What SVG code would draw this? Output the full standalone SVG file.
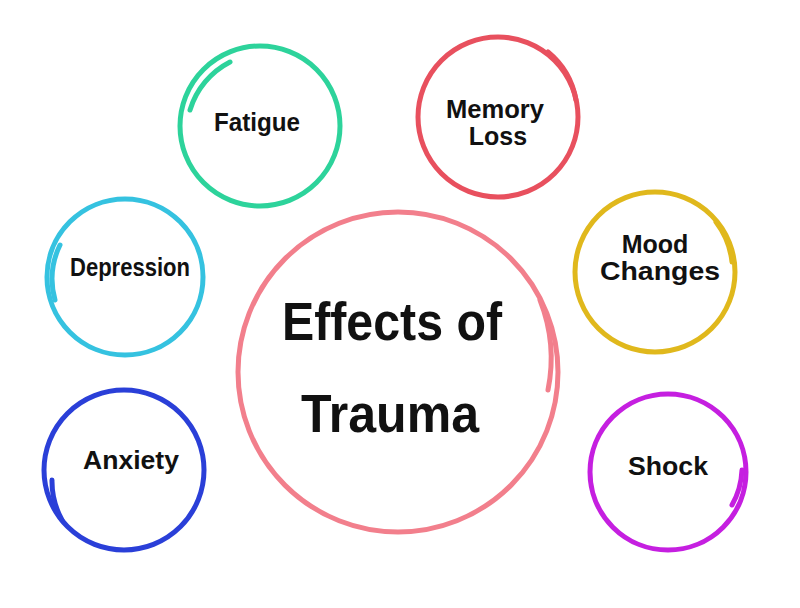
<svg xmlns="http://www.w3.org/2000/svg" width="800" height="608" viewBox="0 0 800 608">
<style>
.c{fill:none;stroke-width:5;stroke-linecap:round}
.t{font-family:"Liberation Sans",Arial,sans-serif;font-size:25px;font-weight:bold;fill:#111;text-anchor:middle;lengthAdjust:spacingAndGlyphs}
.big{font-size:54px}
</style>
<rect width="800" height="608" fill="#fff"/>
<g id="center"><circle class="c" cx="398" cy="372" r="160" stroke="#f27f8c" stroke-width="7"/><path class="c" d="M540 300 A160 160 0 0 1 548 390" stroke="#f27f8c" stroke-width="6"/>
<text class="t big" x="392" y="340" textLength="220" lengthAdjust="spacingAndGlyphs">Effects of</text><text class="t big" x="390" y="432" textLength="178" lengthAdjust="spacingAndGlyphs">Trauma</text></g>
<g id="fatigue"><circle class="c" cx="260" cy="126" r="80" stroke="#2dd39b"/><path class="c" d="M230 62 A80 80 0 0 0 190 110" stroke="#2dd39b"/><text class="t" x="257" y="131" textLength="86" lengthAdjust="spacingAndGlyphs">Fatigue</text></g>
<g id="memory"><circle class="c" cx="498" cy="117" r="80" stroke="#e8505e"/><path class="c" d="M548 52 A80 80 0 0 1 576 100" stroke="#e8505e"/><text class="t" x="495" y="118" textLength="98" lengthAdjust="spacingAndGlyphs">Memory</text><text class="t" x="498" y="145">Loss</text></g>
<g id="depression"><circle class="c" cx="125" cy="277" r="78" stroke="#35c2e0"/><path class="c" d="M60 245 A78 78 0 0 0 55 300" stroke="#35c2e0"/><text class="t" x="130" y="276" textLength="120" lengthAdjust="spacingAndGlyphs">Depression</text></g>
<g id="mood"><circle class="c" cx="655" cy="272" r="80" stroke="#e0b81c"/><path class="c" d="M716 222 A80 80 0 0 1 732 262" stroke="#e0b81c"/><text class="t" x="655" y="253">Mood</text><text class="t" x="660" y="280" textLength="120" lengthAdjust="spacingAndGlyphs">Changes</text></g>
<g id="anxiety"><circle class="c" cx="124" cy="470" r="80" stroke="#2a3fd8"/><path class="c" d="M52 480 A80 80 0 0 0 62 520" stroke="#2a3fd8"/><text class="t" x="131" y="469" textLength="96" lengthAdjust="spacingAndGlyphs">Anxiety</text></g>
<g id="shock"><circle class="c" cx="668" cy="472" r="78" stroke="#c51fe0"/><path class="c" d="M742 470 A78 78 0 0 1 732 505" stroke="#c51fe0"/><text class="t" x="668" y="475" textLength="80" lengthAdjust="spacingAndGlyphs">Shock</text></g>
<g id="connectors"/>
</svg>
